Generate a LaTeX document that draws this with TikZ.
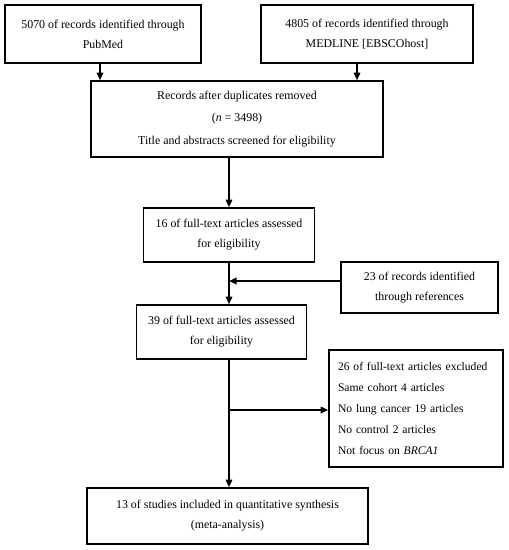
\documentclass[tikz,border=0pt]{standalone}
\usepackage{fontspec}
\setmainfont{Liberation Serif}
\usetikzlibrary{arrows.meta}
\begin{document}
\begin{tikzpicture}[x=1pt,y=-1pt,
  box/.style={draw, line width=1.6pt, inner sep=0pt, align=center,
    font=\fontsize{11.9}{20}\selectfont},
  arr/.style={line width=1.6pt, -{Triangle[length=7.5pt,width=6.5pt]}}]
\useasboundingbox (0,0) rectangle (509,550);
\node[box, minimum width=196pt, minimum height=58pt] (b1) at (103,34)
  {5070 of records identified through\\PubMed};
\node[box, minimum width=212pt, minimum height=58pt] (b2) at (367,34)
  {4805 of records identified through\\MEDLINE [EBSCOhost]};
\node[box, minimum width=292pt, minimum height=76pt,
  font=\fontsize{11.9}{22.5}\selectfont] (b3) at (237,119)
  {Records after duplicates removed\\(\textit{n} = 3498)\\Title and abstracts screened for eligibility};
\node[box, minimum width=171pt, minimum height=54pt] (b4) at (229,235)
  {16 of full-text articles assessed\\for eligibility};
\node[box, minimum width=157pt, minimum height=51pt] (b23) at (419.5,287.5)
  {23 of records identified\\through references};
\node[box, minimum width=170pt, minimum height=54pt] (b5) at (221.5,332)
  {39 of full-text articles assessed\\for eligibility};
\node[box, minimum width=174pt, minimum height=117pt, align=left,
  text width=156pt, font=\fontsize{11.6}{21.2}\selectfont] (bex) at (416,408.5)
  {26 of full-text articles excluded\\Same cohort 4 articles\\No lung cancer 19 articles\\No control 2 articles\\Not focus on \textit{BRCA1}};
\node[box, minimum width=281pt, minimum height=56pt] (fin) at (227.5,516)
  {13 of studies included in quantitative synthesis\\(meta-analysis)};
\draw[arr] ([xshift=-3pt]b1.south) -- ([xshift=-3pt]b1.south |- b3.north);
\draw[arr] ([xshift=-10pt]b2.south) -- ([xshift=-10pt]b2.south |- b3.north);
\draw[arr] (b4.north |- b3.south) -- (b4.north);
\draw[arr] (b4.south) -- (b4.south |- b5.north);
\draw[arr] ([yshift=6.5pt]b23.west) -- ([yshift=6.5pt]b23.west -| b4.south);
\draw[arr] ([yshift=-1.5pt]bex.west -| b4.south) -- ([yshift=-1.5pt]bex.west);
\draw[arr] (b5.south -| b4.south) -- (b4.south |- fin.north);
\end{tikzpicture}
\end{document}
